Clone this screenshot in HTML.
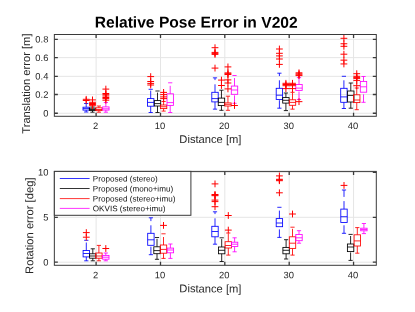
<!DOCTYPE html>
<html><head><meta charset="utf-8"><title>Relative Pose Error in V202</title>
<style>
html,body{margin:0;padding:0;background:#fff;}
svg{display:block;filter:blur(0.35px);}
text{font-family:"Liberation Sans",Arial,Helvetica,sans-serif;fill:#262626;}
.tk{font-size:9.4px;}
.lb{font-size:11.2px;}
.lg{font-size:8.1px;fill:#111;}
.tt{font-size:15.62px;font-weight:bold;fill:#000;}
</style></head><body>
<svg width="415" height="312" viewBox="0 0 415 312">
<rect width="415" height="312" fill="#fff"/>
<text x="196.2" y="27.6" text-anchor="middle" class="tt" transform="rotate(0.03 196.2 27.6)">Relative Pose Error in V202</text>
<path d="M96.1 34.5V116.3" stroke="#e5e5e5" stroke-width="1"/>
<path d="M160.5 34.5V116.3" stroke="#e5e5e5" stroke-width="1"/>
<path d="M224.8 34.5V116.3" stroke="#e5e5e5" stroke-width="1"/>
<path d="M289.2 34.5V116.3" stroke="#e5e5e5" stroke-width="1"/>
<path d="M353.55 34.5V116.3" stroke="#e5e5e5" stroke-width="1"/>
<path d="M54.35 113.25H376.3" stroke="#e5e5e5" stroke-width="1"/>
<path d="M54.35 94.5H376.3" stroke="#e5e5e5" stroke-width="1"/>
<path d="M54.35 76.35H376.3" stroke="#e5e5e5" stroke-width="1"/>
<path d="M54.35 57.65H376.3" stroke="#e5e5e5" stroke-width="1"/>
<path d="M54.35 39.35H376.3" stroke="#e5e5e5" stroke-width="1"/>
<g stroke="#0000ff" stroke-width="0.85" fill="none">
<path d="M86.2 107.2V103.5M86.2 112.0V110.1" stroke-dasharray="8 4.2"/>
<path d="M84.10000000000001 103.5H88.3M84.10000000000001 112.0H88.3"/>
<rect x="83.00" y="107.2" width="6.4" height="2.90"/>
<path d="M83.00 108.6H89.40"/>
</g>
<g stroke="#000000" stroke-width="0.85" fill="none">
<path d="M92.5 108.2V107.0M92.5 112.2V110.5" stroke-dasharray="8 4.2"/>
<path d="M90.4 107.0H94.6M90.4 112.2H94.6"/>
<rect x="89.30" y="108.2" width="6.4" height="2.30"/>
<path d="M89.30 109.5H95.70"/>
</g>
<g stroke="#ff0000" stroke-width="0.85" fill="none">
<path d="M98.9 107.8V106.0M98.9 112.2V110.6" stroke-dasharray="8 4.2"/>
<path d="M96.80000000000001 106.0H101.0M96.80000000000001 112.2H101.0"/>
<rect x="95.70" y="107.8" width="6.4" height="2.80"/>
<path d="M95.70 109.5H102.10"/>
</g>
<g stroke="#ff00ff" stroke-width="0.85" fill="none">
<path d="M105.85 106.9V102.5M105.85 112.2V110.1" stroke-dasharray="8 4.2"/>
<path d="M103.75 102.5H107.94999999999999M103.75 112.2H107.94999999999999"/>
<rect x="102.65" y="106.9" width="6.4" height="3.20"/>
<path d="M102.65 108.8H109.05"/>
</g>
<path d="M82.80 100.5h6.8M86.2 97.10v6.8M82.80 99.3h6.8M86.2 95.90v6.8" stroke="#ff0000" stroke-width="1" fill="none"/>
<path d="M89.10 99.9h6.8M92.5 96.50v6.8M89.10 102.3h6.8M92.5 98.90v6.8M89.10 103.5h6.8M92.5 100.10v6.8M89.10 104.5h6.8M92.5 101.10v6.8M89.10 105.7h6.8M92.5 102.30v6.8" stroke="#ff0000" stroke-width="1" fill="none"/>
<path d="M102.45 89.1h6.8M105.85 85.70v6.8M102.45 93.5h6.8M105.85 90.10v6.8M102.45 94.7h6.8M105.85 91.30v6.8M102.45 96.0h6.8M105.85 92.60v6.8M102.45 97.5h6.8M105.85 94.10v6.8M102.45 98.6h6.8M105.85 95.20v6.8M102.45 100.2h6.8M105.85 96.80v6.8" stroke="#ff0000" stroke-width="1" fill="none"/>
<g stroke="#0000ff" stroke-width="0.85" fill="none">
<path d="M150.7 98.6V89.3M150.7 112.5V106.2" stroke-dasharray="8 4.2"/>
<path d="M148.6 89.3H152.79999999999998M148.6 112.5H152.79999999999998"/>
<rect x="147.50" y="98.6" width="6.4" height="7.60"/>
<path d="M147.50 102.4H153.90"/>
</g>
<g stroke="#000000" stroke-width="0.85" fill="none">
<path d="M157.5 100.6V91.0M157.5 112.5V106.0" stroke-dasharray="8 4.2"/>
<path d="M155.4 91.0H159.6M155.4 112.5H159.6"/>
<rect x="154.30" y="100.6" width="6.4" height="5.40"/>
<path d="M154.30 103.6H160.70"/>
</g>
<g stroke="#ff0000" stroke-width="0.85" fill="none">
<path d="M163.6 105.0V101.5M163.6 111.1V108.6" stroke-dasharray="8 4.2"/>
<path d="M161.5 101.5H165.7M161.5 111.1H165.7"/>
<rect x="160.40" y="105.0" width="6.4" height="3.60"/>
<path d="M160.40 106.75H166.80"/>
</g>
<g stroke="#ff00ff" stroke-width="0.85" fill="none">
<path d="M170.2 93.8V82.8M170.2 112.5V105.4" stroke-dasharray="8 4.2"/>
<path d="M168.1 82.8H172.29999999999998M168.1 112.5H172.29999999999998"/>
<rect x="167.00" y="93.8" width="6.4" height="11.60"/>
<path d="M167.00 102.6H173.40"/>
</g>
<path d="M147.30 76.6h6.8M150.7 73.20v6.8M147.30 81.5h6.8M150.7 78.10v6.8M147.30 83.4h6.8M150.7 80.00v6.8M147.30 85.0h6.8M150.7 81.60v6.8" stroke="#ff0000" stroke-width="1" fill="none"/>
<path d="M160.20 92.4h6.8M163.6 89.00v6.8M160.20 94.6h6.8M163.6 91.20v6.8M160.20 96.9h6.8M163.6 93.50v6.8M160.20 98.6h6.8M163.6 95.20v6.8" stroke="#ff0000" stroke-width="1" fill="none"/>
<g stroke="#0000ff" stroke-width="0.85" fill="none">
<path d="M215.0 92.3V77.85M215.0 109.15V101.9" stroke-dasharray="8 4.2"/>
<path d="M212.9 77.85H217.1M212.9 109.15H217.1"/>
<rect x="211.80" y="92.3" width="6.4" height="9.60"/>
<path d="M211.80 98.6H218.20"/>
</g>
<g stroke="#000000" stroke-width="0.85" fill="none">
<path d="M221.45 98.1V90.2M221.45 110.3V105.6" stroke-dasharray="8 4.2"/>
<path d="M219.35 90.2H223.54999999999998M219.35 110.3H223.54999999999998"/>
<rect x="218.25" y="98.1" width="6.4" height="7.50"/>
<path d="M218.25 102.4H224.65"/>
</g>
<g stroke="#ff0000" stroke-width="0.85" fill="none">
<path d="M227.95 102.9V96.2M227.95 110.3V106.0" stroke-dasharray="8 4.2"/>
<path d="M225.85 96.2H230.04999999999998M225.85 110.3H230.04999999999998"/>
<rect x="224.75" y="102.9" width="6.4" height="3.10"/>
<path d="M224.75 104.3H231.15"/>
</g>
<g stroke="#ff00ff" stroke-width="0.85" fill="none">
<path d="M234.5 86.05V75.5M234.5 103.3V94.3" stroke-dasharray="8 4.2"/>
<path d="M232.4 75.5H236.6M232.4 103.3H236.6"/>
<rect x="231.30" y="86.05" width="6.4" height="8.25"/>
<path d="M231.30 90.0H237.70"/>
</g>
<path d="M211.60 47.7h6.8M215.0 44.30v6.8M211.60 52.4h6.8M215.0 49.00v6.8M211.60 53.4h6.8M215.0 50.00v6.8M211.60 54.4h6.8M215.0 51.00v6.8M211.60 68.1h6.8M215.0 64.70v6.8" stroke="#ff0000" stroke-width="1" fill="none"/>
<path d="M218.05 80.1h6.8M221.45 76.70v6.8M218.05 85.5h6.8M221.45 82.10v6.8" stroke="#ff0000" stroke-width="1" fill="none"/>
<path d="M224.55 66.9h6.8M227.95 63.50v6.8M224.55 72.9h6.8M227.95 69.50v6.8M224.55 73.7h6.8M227.95 70.30v6.8M224.55 74.5h6.8M227.95 71.10v6.8M224.55 79.9h6.8M227.95 76.50v6.8M224.55 83.0h6.8M227.95 79.60v6.8M224.55 88.9h6.8M227.95 85.50v6.8" stroke="#ff0000" stroke-width="1" fill="none"/>
<path d="M231.10 105.5h6.8M234.5 102.10v6.8" stroke="#ff0000" stroke-width="1" fill="none"/>
<g stroke="#0000ff" stroke-width="0.85" fill="none">
<path d="M279.4 88.3V73.2M279.4 108.2V99.5" stroke-dasharray="8 4.2"/>
<path d="M277.29999999999995 73.2H281.5M277.29999999999995 108.2H281.5"/>
<rect x="276.20" y="88.3" width="6.4" height="11.20"/>
<path d="M276.20 95.2H282.60"/>
</g>
<g stroke="#000000" stroke-width="0.85" fill="none">
<path d="M285.9 97.6V93.0M285.9 110.6V103.1" stroke-dasharray="8 4.2"/>
<path d="M283.79999999999995 93.0H288.0M283.79999999999995 110.6H288.0"/>
<rect x="282.70" y="97.6" width="6.4" height="5.50"/>
<path d="M282.70 100.3H289.10"/>
</g>
<g stroke="#ff0000" stroke-width="0.85" fill="none">
<path d="M292.5 99.8V92.3M292.5 109.15V105.3" stroke-dasharray="8 4.2"/>
<path d="M290.4 92.3H294.6M290.4 109.15H294.6"/>
<rect x="289.30" y="99.8" width="6.4" height="5.50"/>
<path d="M289.30 102.4H295.70"/>
</g>
<g stroke="#ff00ff" stroke-width="0.85" fill="none">
<path d="M299.0 84.5V77.6M299.0 99.5V90.4" stroke-dasharray="8 4.2"/>
<path d="M296.9 77.6H301.1M296.9 99.5H301.1"/>
<rect x="295.80" y="84.5" width="6.4" height="5.90"/>
<path d="M295.80 88.1H302.20"/>
</g>
<path d="M276.00 49.0h6.8M279.4 45.60v6.8M276.00 53.3h6.8M279.4 49.90v6.8M276.00 55.9h6.8M279.4 52.50v6.8M276.00 59.0h6.8M279.4 55.60v6.8M276.00 64.4h6.8M279.4 61.00v6.8" stroke="#ff0000" stroke-width="1" fill="none"/>
<path d="M282.50 83.3h6.8M285.9 79.90v6.8M282.50 84.5h6.8M285.9 81.10v6.8M282.50 85.7h6.8M285.9 82.30v6.8M282.50 88.6h6.8M285.9 85.20v6.8" stroke="#ff0000" stroke-width="1" fill="none"/>
<path d="M289.10 83.3h6.8M292.5 79.90v6.8M289.10 84.5h6.8M292.5 81.10v6.8M289.10 85.7h6.8M292.5 82.30v6.8M289.10 88.6h6.8M292.5 85.20v6.8" stroke="#ff0000" stroke-width="1" fill="none"/>
<path d="M295.60 72.8h6.8M299.0 69.40v6.8M295.60 73.8h6.8M299.0 70.40v6.8M295.60 74.8h6.8M299.0 71.40v6.8M295.60 75.6h6.8M299.0 72.20v6.8M295.60 101.65h6.8M299.0 98.25v6.8" stroke="#ff0000" stroke-width="1" fill="none"/>
<g stroke="#0000ff" stroke-width="0.85" fill="none">
<path d="M343.9 88.3V76.3M343.9 108.5V102.3" stroke-dasharray="8 4.2"/>
<path d="M341.79999999999995 76.3H346.0M341.79999999999995 108.5H346.0"/>
<rect x="340.70" y="88.3" width="6.4" height="14.00"/>
<path d="M340.70 96.9H347.10"/>
</g>
<g stroke="#000000" stroke-width="0.85" fill="none">
<path d="M350.8 91.0V83.0M350.8 108.2V102.0" stroke-dasharray="8 4.2"/>
<path d="M348.7 83.0H352.90000000000003M348.7 108.2H352.90000000000003"/>
<rect x="347.60" y="91.0" width="6.4" height="11.00"/>
<path d="M347.60 95.4H354.00"/>
</g>
<g stroke="#ff0000" stroke-width="0.85" fill="none">
<path d="M356.75 94.8V88.0M356.75 109.7V102.6" stroke-dasharray="8 4.2"/>
<path d="M354.65 88.0H358.85M354.65 109.7H358.85"/>
<rect x="353.55" y="94.8" width="6.4" height="7.80"/>
<path d="M353.55 100.0H359.95"/>
</g>
<g stroke="#ff00ff" stroke-width="0.85" fill="none">
<path d="M363.5 81.4V76.5M363.5 102.3V92.2" stroke-dasharray="8 4.2"/>
<path d="M361.4 76.5H365.6M361.4 102.3H365.6"/>
<rect x="360.30" y="81.4" width="6.4" height="10.80"/>
<path d="M360.30 86.8H366.70"/>
</g>
<path d="M340.50 38.3h6.8M343.9 34.90v6.8M340.50 43.75h6.8M343.9 40.35v6.8M340.50 46.3h6.8M343.9 42.90v6.8M340.50 54.2h6.8M343.9 50.80v6.8M340.50 60.15h6.8M343.9 56.75v6.8M340.50 63.95h6.8M343.9 60.55v6.8" stroke="#ff0000" stroke-width="1" fill="none"/>
<path d="M353.35 73.7h6.8M356.75 70.30v6.8M353.35 76.3h6.8M356.75 72.90v6.8M353.35 77.4h6.8M356.75 74.00v6.8M353.35 78.4h6.8M356.75 75.00v6.8M353.35 80.4h6.8M356.75 77.00v6.8M353.35 85.7h6.8M356.75 82.30v6.8" stroke="#ff0000" stroke-width="1" fill="none"/>
<path d="M96.1 116.3v-3.5M96.1 34.5v3.5M160.5 116.3v-3.5M160.5 34.5v3.5M224.8 116.3v-3.5M224.8 34.5v3.5M289.2 116.3v-3.5M289.2 34.5v3.5M353.55 116.3v-3.5M353.55 34.5v3.5M54.35 113.25h3.5M376.3 113.25h-3.5M54.35 94.5h3.5M376.3 94.5h-3.5M54.35 76.35h3.5M376.3 76.35h-3.5M54.35 57.65h3.5M376.3 57.65h-3.5M54.35 39.35h3.5M376.3 39.35h-3.5" stroke="#3a3a3a" stroke-width="1.3" fill="none"/>
<rect x="54.35" y="34.5" width="321.95" height="81.8" stroke="#3a3a3a" stroke-width="1" fill="none"/>
<text x="95.6" y="129.0" text-anchor="middle" class="tk" transform="rotate(0.05 95.6 129.0)">2</text>
<text x="160.0" y="129.0" text-anchor="middle" class="tk" transform="rotate(0.05 160.0 129.0)">10</text>
<text x="224.3" y="129.0" text-anchor="middle" class="tk" transform="rotate(0.05 224.3 129.0)">20</text>
<text x="288.7" y="129.0" text-anchor="middle" class="tk" transform="rotate(0.05 288.7 129.0)">30</text>
<text x="353.05" y="129.0" text-anchor="middle" class="tk" transform="rotate(0.05 353.05 129.0)">40</text>
<text x="48.4" y="116.50" text-anchor="end" class="tk" transform="rotate(0.05 48.4 116.50)">0</text>
<text x="48.4" y="97.75" text-anchor="end" class="tk" transform="rotate(0.05 48.4 97.75)">0.2</text>
<text x="48.4" y="79.60" text-anchor="end" class="tk" transform="rotate(0.05 48.4 79.60)">0.4</text>
<text x="48.4" y="60.90" text-anchor="end" class="tk" transform="rotate(0.05 48.4 60.90)">0.6</text>
<text x="48.4" y="42.60" text-anchor="end" class="tk" transform="rotate(0.05 48.4 42.60)">0.8</text>
<text x="210.4" y="143" text-anchor="middle" class="lb" transform="rotate(0.05 210.4 143)">Distance [m]</text>
<text transform="translate(30 83.6) rotate(-90.05)" text-anchor="middle" class="lb">Translation error [m]</text>
<path d="M96.1 171.4V265.3" stroke="#e5e5e5" stroke-width="1"/>
<path d="M160.5 171.4V265.3" stroke="#e5e5e5" stroke-width="1"/>
<path d="M224.8 171.4V265.3" stroke="#e5e5e5" stroke-width="1"/>
<path d="M289.2 171.4V265.3" stroke="#e5e5e5" stroke-width="1"/>
<path d="M353.55 171.4V265.3" stroke="#e5e5e5" stroke-width="1"/>
<path d="M54.35 262.2H376.3" stroke="#e5e5e5" stroke-width="1"/>
<path d="M54.35 217.3H376.3" stroke="#e5e5e5" stroke-width="1"/>
<path d="M54.35 172.3H376.3" stroke="#e5e5e5" stroke-width="1"/>
<g stroke="#0000ff" stroke-width="0.85" fill="none">
<path d="M86.3 250.5V240.3M86.3 260.8V256.9" stroke-dasharray="8 4.2"/>
<path d="M84.2 240.3H88.39999999999999M84.2 260.8H88.39999999999999"/>
<rect x="83.10" y="250.5" width="6.4" height="6.40"/>
<path d="M83.10 253.5H89.50"/>
</g>
<g stroke="#000000" stroke-width="0.85" fill="none">
<path d="M92.8 253.8V248.8M92.8 260.8V258.2" stroke-dasharray="8 4.2"/>
<path d="M90.7 248.8H94.89999999999999M90.7 260.8H94.89999999999999"/>
<rect x="89.60" y="253.8" width="6.4" height="4.40"/>
<path d="M89.60 256.0H96.00"/>
</g>
<g stroke="#ff0000" stroke-width="0.85" fill="none">
<path d="M98.9 253.0V245.4M98.9 260.8V258.2" stroke-dasharray="8 4.2"/>
<path d="M96.80000000000001 245.4H101.0M96.80000000000001 260.8H101.0"/>
<rect x="95.70" y="253.0" width="6.4" height="5.20"/>
<path d="M95.70 256.0H102.10"/>
</g>
<g stroke="#ff00ff" stroke-width="0.85" fill="none">
<path d="M105.8 255.4V253.0M105.8 260.8V259.2" stroke-dasharray="8 4.2"/>
<path d="M103.7 253.0H107.89999999999999M103.7 260.8H107.89999999999999"/>
<rect x="102.60" y="255.4" width="6.4" height="3.80"/>
<path d="M102.60 257.2H109.00"/>
</g>
<path d="M82.90 232.6h6.8M86.3 229.20v6.8M82.90 237.2h6.8M86.3 233.80v6.8" stroke="#ff0000" stroke-width="1" fill="none"/>
<path d="M102.40 248.5h6.8M105.8 245.10v6.8" stroke="#ff0000" stroke-width="1" fill="none"/>
<g stroke="#0000ff" stroke-width="0.85" fill="none">
<path d="M150.9 233.3V217.8M150.9 254.7V245.3" stroke-dasharray="8 4.2"/>
<path d="M148.8 217.8H153.0M148.8 254.7H153.0"/>
<rect x="147.70" y="233.3" width="6.4" height="12.00"/>
<path d="M147.70 239.8H154.10"/>
</g>
<g stroke="#000000" stroke-width="0.85" fill="none">
<path d="M157.0 246.8V237.5M157.0 259.3V253.7" stroke-dasharray="8 4.2"/>
<path d="M154.9 237.5H159.1M154.9 259.3H159.1"/>
<rect x="153.80" y="246.8" width="6.4" height="6.90"/>
<path d="M153.80 250.6H160.20"/>
</g>
<g stroke="#ff0000" stroke-width="0.85" fill="none">
<path d="M163.5 245.0V233.8M163.5 258.4V253.2" stroke-dasharray="8 4.2"/>
<path d="M161.4 233.8H165.6M161.4 258.4H165.6"/>
<rect x="160.30" y="245.0" width="6.4" height="8.20"/>
<path d="M160.30 249.4H166.70"/>
</g>
<g stroke="#ff00ff" stroke-width="0.85" fill="none">
<path d="M170.4 248.1V244.0M170.4 258.4V252.8" stroke-dasharray="8 4.2"/>
<path d="M168.3 244.0H172.5M168.3 258.4H172.5"/>
<rect x="167.20" y="248.1" width="6.4" height="4.70"/>
<path d="M167.20 250.0H173.60"/>
</g>
<path d="M160.10 225.4h6.8M163.5 222.00v6.8" stroke="#ff0000" stroke-width="1" fill="none"/>
<g stroke="#0000ff" stroke-width="0.85" fill="none">
<path d="M215.0 226.3V211.8M215.0 244.2V236.8" stroke-dasharray="8 4.2"/>
<path d="M212.9 211.8H217.1M212.9 244.2H217.1"/>
<rect x="211.80" y="226.3" width="6.4" height="10.50"/>
<path d="M211.80 231.5H218.20"/>
</g>
<g stroke="#000000" stroke-width="0.85" fill="none">
<path d="M221.7 247.0V237.8M221.7 261.5V253.8" stroke-dasharray="8 4.2"/>
<path d="M219.6 237.8H223.79999999999998M219.6 261.5H223.79999999999998"/>
<rect x="218.50" y="247.0" width="6.4" height="6.80"/>
<path d="M218.50 250.3H224.90"/>
</g>
<g stroke="#ff0000" stroke-width="0.85" fill="none">
<path d="M228.3 241.7V233.0M228.3 255.1V248.0" stroke-dasharray="8 4.2"/>
<path d="M226.20000000000002 233.0H230.4M226.20000000000002 255.1H230.4"/>
<rect x="225.10" y="241.7" width="6.4" height="6.30"/>
<path d="M225.10 245.5H231.50"/>
</g>
<g stroke="#ff00ff" stroke-width="0.85" fill="none">
<path d="M234.6 242.2V237.8M234.6 251.8V246.5" stroke-dasharray="8 4.2"/>
<path d="M232.5 237.8H236.7M232.5 251.8H236.7"/>
<rect x="231.40" y="242.2" width="6.4" height="4.30"/>
<path d="M231.40 244.2H237.80"/>
</g>
<path d="M211.60 183.9h6.8M215.0 180.50v6.8M211.60 194.5h6.8M215.0 191.10v6.8M211.60 195.1h6.8M215.0 191.70v6.8M211.60 195.7h6.8M215.0 192.30v6.8M211.60 200.1h6.8M215.0 196.70v6.8M211.60 201.6h6.8M215.0 198.20v6.8M211.60 206.7h6.8M215.0 203.30v6.8" stroke="#ff0000" stroke-width="1" fill="none"/>
<path d="M224.90 215.5h6.8M228.3 212.10v6.8M224.90 230.1h6.8M228.3 226.70v6.8" stroke="#ff0000" stroke-width="1" fill="none"/>
<g stroke="#0000ff" stroke-width="0.85" fill="none">
<path d="M279.4 218.6V207.3M279.4 237.4V226.7" stroke-dasharray="8 4.2"/>
<path d="M277.29999999999995 207.3H281.5M277.29999999999995 237.4H281.5"/>
<rect x="276.20" y="218.6" width="6.4" height="8.10"/>
<path d="M276.20 223.0H282.60"/>
</g>
<g stroke="#000000" stroke-width="0.85" fill="none">
<path d="M286.1 247.4V239.7M286.1 259.0V253.8" stroke-dasharray="8 4.2"/>
<path d="M284.0 239.7H288.20000000000005M284.0 259.0H288.20000000000005"/>
<rect x="282.90" y="247.4" width="6.4" height="6.40"/>
<path d="M282.90 250.3H289.30"/>
</g>
<g stroke="#ff0000" stroke-width="0.85" fill="none">
<path d="M292.5 236.8V227.2M292.5 255.1V248.4" stroke-dasharray="8 4.2"/>
<path d="M290.4 227.2H294.6M290.4 255.1H294.6"/>
<rect x="289.30" y="236.8" width="6.4" height="11.60"/>
<path d="M289.30 243.2H295.70"/>
</g>
<g stroke="#ff00ff" stroke-width="0.85" fill="none">
<path d="M299.0 234.5V230.7M299.0 243.2V240.7" stroke-dasharray="8 4.2"/>
<path d="M296.9 230.7H301.1M296.9 243.2H301.1"/>
<rect x="295.80" y="234.5" width="6.4" height="6.20"/>
<path d="M295.80 237.8H302.20"/>
</g>
<path d="M276.00 175.9h6.8M279.4 172.50v6.8M276.00 179.3h6.8M279.4 175.90v6.8M276.00 180h6.8M279.4 176.60v6.8M276.00 180.7h6.8M279.4 177.30v6.8M276.00 192.8h6.8M279.4 189.40v6.8" stroke="#ff0000" stroke-width="1" fill="none"/>
<path d="M289.10 214.0h6.8M292.5 210.60v6.8" stroke="#ff0000" stroke-width="1" fill="none"/>
<g stroke="#0000ff" stroke-width="0.85" fill="none">
<path d="M344.0 209.1V190.0M344.0 233.3V222.5" stroke-dasharray="8 4.2"/>
<path d="M341.9 190.0H346.1M341.9 233.3H346.1"/>
<rect x="340.80" y="209.1" width="6.4" height="13.40"/>
<path d="M340.80 216.7H347.20"/>
</g>
<g stroke="#000000" stroke-width="0.85" fill="none">
<path d="M350.6 244.0V234.4M350.6 260.4V251.6" stroke-dasharray="8 4.2"/>
<path d="M348.5 234.4H352.70000000000005M348.5 260.4H352.70000000000005"/>
<rect x="347.40" y="244.0" width="6.4" height="7.60"/>
<path d="M347.40 247.0H353.80"/>
</g>
<g stroke="#ff0000" stroke-width="0.85" fill="none">
<path d="M357.3 234.8V227.6M357.3 253.2V246.0" stroke-dasharray="8 4.2"/>
<path d="M355.2 227.6H359.40000000000003M355.2 253.2H359.40000000000003"/>
<rect x="354.10" y="234.8" width="6.4" height="11.20"/>
<path d="M354.10 240.9H360.50"/>
</g>
<g stroke="#ff00ff" stroke-width="0.85" fill="none">
<path d="M363.9 228.2V223.5M363.9 233.6V230.8" stroke-dasharray="8 4.2"/>
<path d="M361.79999999999995 223.5H366.0M361.79999999999995 233.6H366.0"/>
<rect x="360.70" y="228.2" width="6.4" height="2.60"/>
<path d="M360.70 229.5H367.10"/>
</g>
<path d="M340.60 185.4h6.8M344.0 182.00v6.8" stroke="#ff0000" stroke-width="1" fill="none"/>
<path d="M96.1 265.3v-3.5M96.1 171.4v3.5M160.5 265.3v-3.5M160.5 171.4v3.5M224.8 265.3v-3.5M224.8 171.4v3.5M289.2 265.3v-3.5M289.2 171.4v3.5M353.55 265.3v-3.5M353.55 171.4v3.5M54.35 262.2h3.5M376.3 262.2h-3.5M54.35 217.3h3.5M376.3 217.3h-3.5M54.35 172.3h3.5M376.3 172.3h-3.5" stroke="#3a3a3a" stroke-width="1.3" fill="none"/>
<rect x="54.35" y="171.4" width="321.95" height="93.9" stroke="#3a3a3a" stroke-width="1" fill="none"/>
<text x="95.6" y="278.3" text-anchor="middle" class="tk" transform="rotate(0.05 95.6 278.3)">2</text>
<text x="160.0" y="278.3" text-anchor="middle" class="tk" transform="rotate(0.05 160.0 278.3)">10</text>
<text x="224.3" y="278.3" text-anchor="middle" class="tk" transform="rotate(0.05 224.3 278.3)">20</text>
<text x="288.7" y="278.3" text-anchor="middle" class="tk" transform="rotate(0.05 288.7 278.3)">30</text>
<text x="353.05" y="278.3" text-anchor="middle" class="tk" transform="rotate(0.05 353.05 278.3)">40</text>
<text x="48.4" y="265.45" text-anchor="end" class="tk" transform="rotate(0.05 48.4 265.45)">0</text>
<text x="48.4" y="220.55" text-anchor="end" class="tk" transform="rotate(0.05 48.4 220.55)">5</text>
<text x="48.4" y="175.55" text-anchor="end" class="tk" transform="rotate(0.05 48.4 175.55)">10</text>
<rect x="54.35" y="171.4" width="136.55" height="43.900000000000006" fill="#fff" stroke="#3a3a3a" stroke-width="1"/>
<path d="M59.8 178.5H89.6" stroke="#0000ff" stroke-width="0.8"/>
<text x="92.8" y="181.4" class="lg" transform="rotate(0.05 92.8 181.4)">Proposed (stereo)</text>
<path d="M59.8 188.5H89.6" stroke="#000000" stroke-width="0.8"/>
<text x="92.8" y="191.4" class="lg" transform="rotate(0.05 92.8 191.4)">Proposed (mono+imu)</text>
<path d="M59.8 198.6H89.6" stroke="#ff0000" stroke-width="0.8"/>
<text x="92.8" y="201.5" class="lg" transform="rotate(0.05 92.8 201.5)">Proposed (stereo+imu)</text>
<path d="M59.8 208.4H89.6" stroke="#ff00ff" stroke-width="0.8"/>
<text x="92.8" y="211.3" class="lg" transform="rotate(0.05 92.8 211.3)">OKVIS (stereo+imu)</text>
<text x="210.4" y="292.4" text-anchor="middle" class="lb" transform="rotate(0.05 210.4 292.4)">Distance [m]</text>
<text transform="translate(33.2 225.7) rotate(-90.05)" text-anchor="middle" class="lb">Rotation error [deg]</text>
</svg>
</body></html>
